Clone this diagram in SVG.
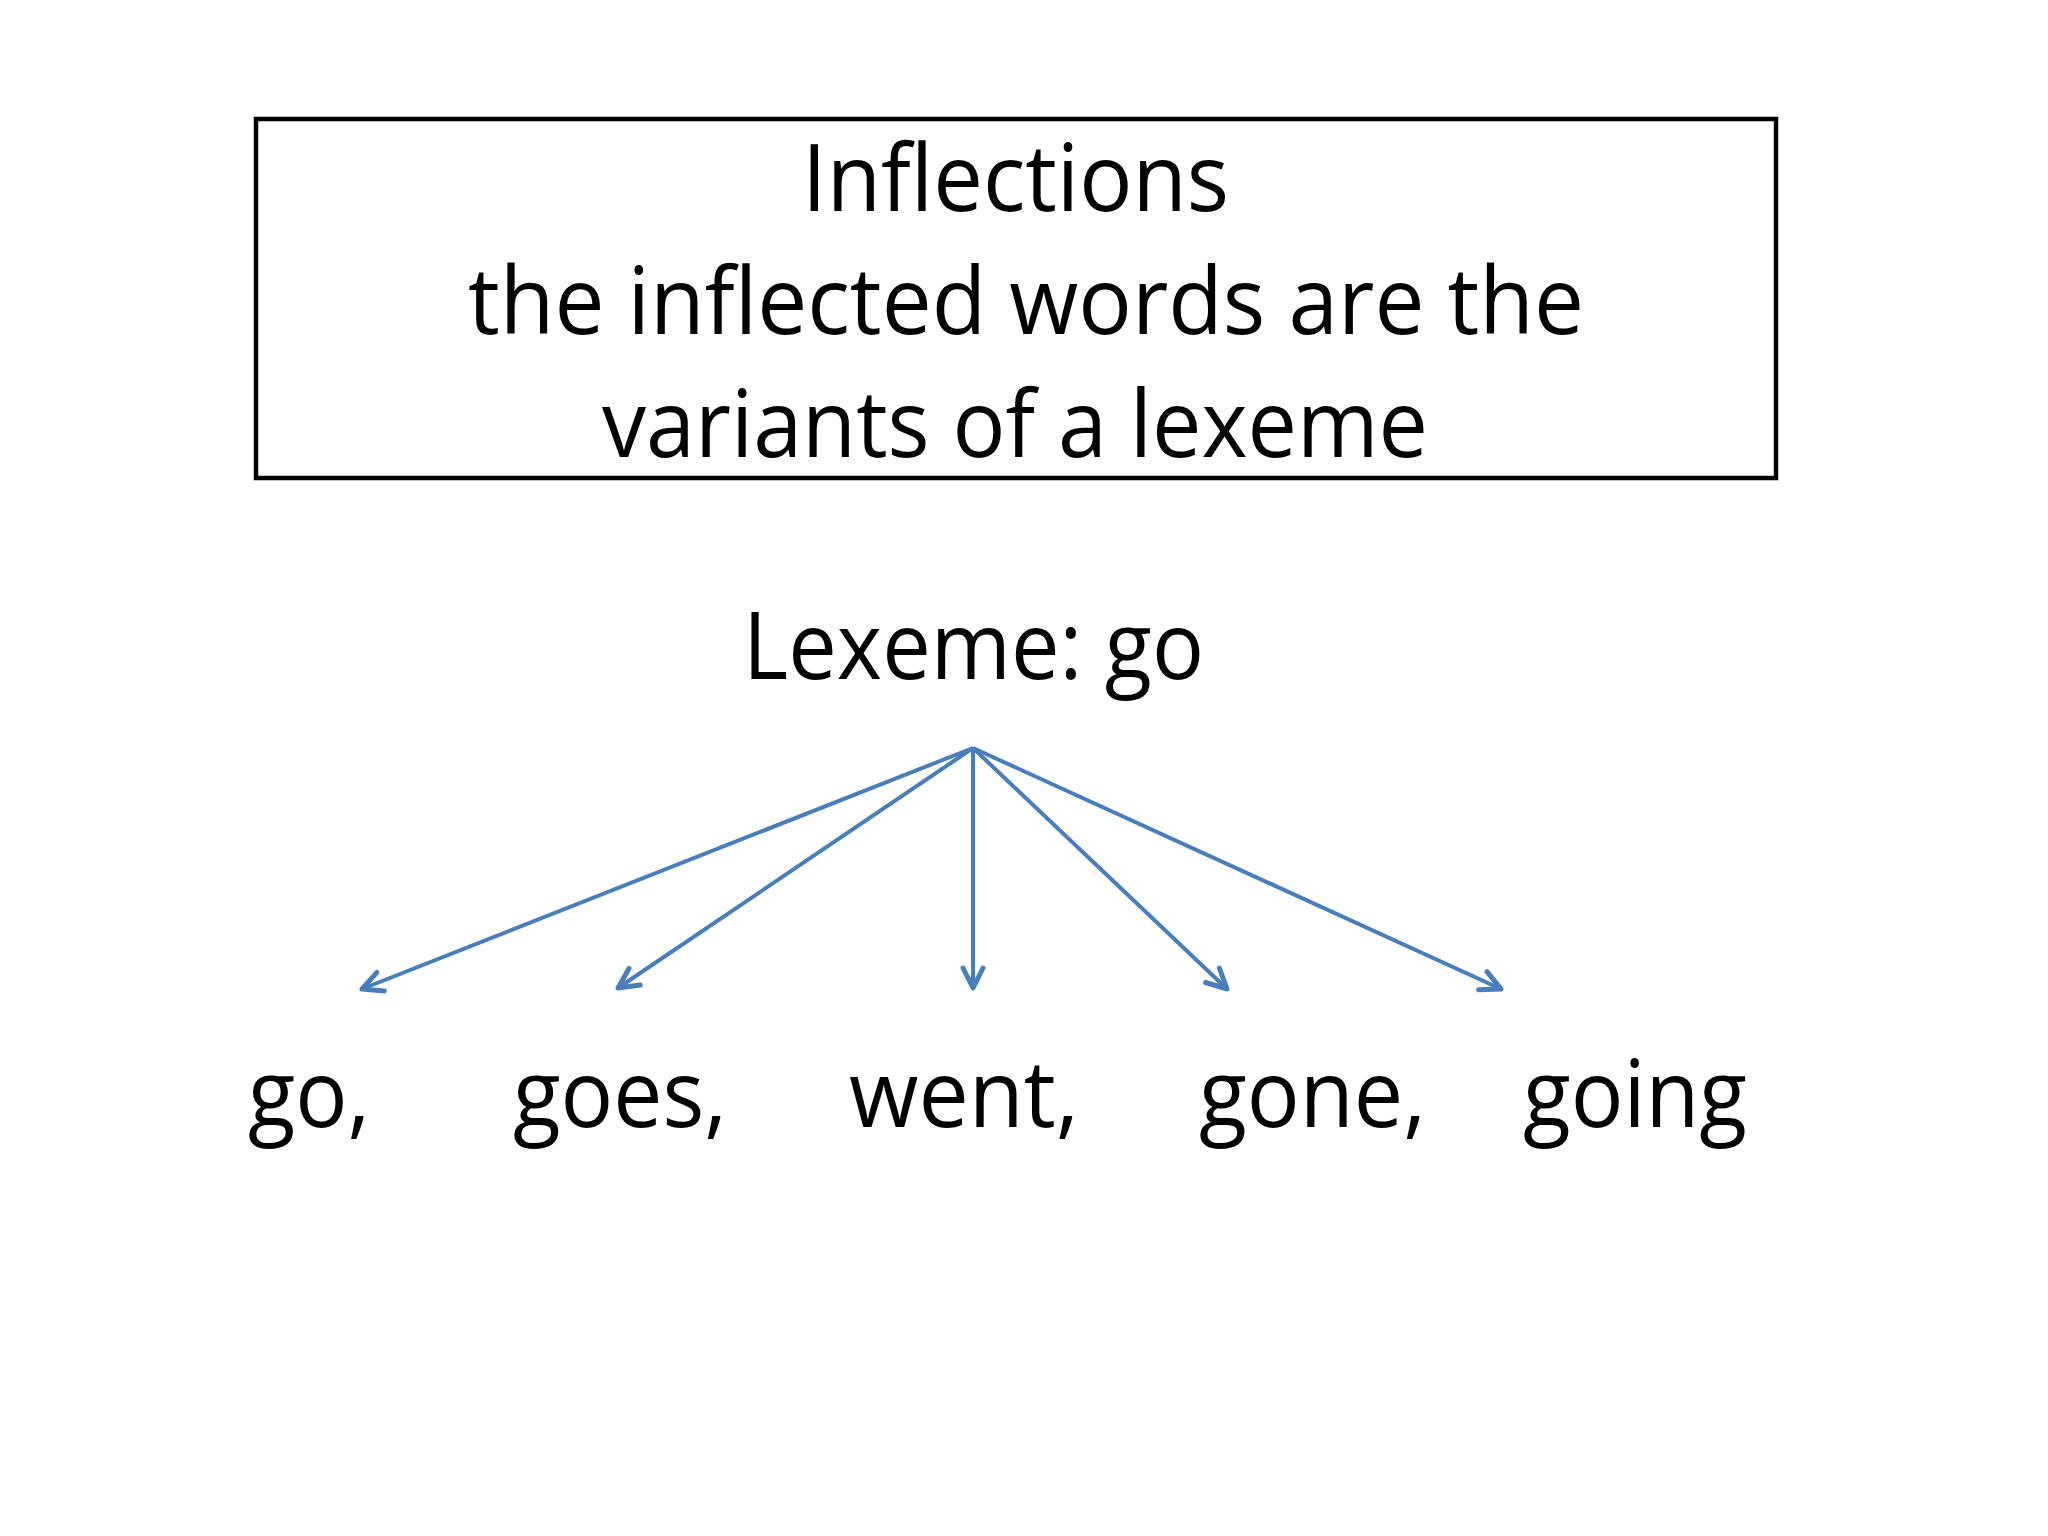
<svg xmlns="http://www.w3.org/2000/svg" width="2048" height="1536" viewBox="0 0 2048 1536">
<style>
  text { font-family: "Open Sans", "Noto Sans", sans-serif; font-size: 94px; fill: #000; }
  .edge { stroke: #4a7ebb; stroke-width: 4; fill: none; marker-end: url(#arr); }
</style>
<defs>
  <marker id="arr" markerUnits="userSpaceOnUse" markerWidth="30" markerHeight="30" viewBox="-20 -12 24 24" refX="0" refY="0" orient="auto">
    <path d="M-16,-8 L0,0 L-16,8" fill="none" stroke="#4a7ebb" stroke-width="4" stroke-linecap="round" stroke-linejoin="round"/>
  </marker>
</defs>
<rect width="2048" height="1536" fill="#fff"/>
<g id="title">
  <rect x="256" y="119" width="1520" height="359" fill="none" stroke="#000" stroke-width="4.5"/>
  <text x="802" y="211" textLength="427" lengthAdjust="spacingAndGlyphs">Inflections</text>
  <text x="468" y="334" textLength="1116" lengthAdjust="spacingAndGlyphs">the inflected words are the</text>
  <text x="602" y="457" textLength="826" lengthAdjust="spacingAndGlyphs">variants of a lexeme</text>
</g>
<g id="lexeme">
  <text x="743" y="679" textLength="461" lengthAdjust="spacingAndGlyphs">Lexeme: go</text>
</g>
<g id="connectors">
  <line class="edge" x1="973" y1="748" x2="362" y2="989"/>
  <line class="edge" x1="973" y1="748" x2="618" y2="988"/>
  <line class="edge" x1="973" y1="748" x2="973" y2="988"/>
  <line class="edge" x1="973" y1="748" x2="1227" y2="989"/>
  <line class="edge" x1="973" y1="748" x2="1501" y2="989"/>
</g>
<g id="w-go"><text x="248" y="1127" textLength="122" lengthAdjust="spacingAndGlyphs">go,</text></g>
<g id="w-goes"><text x="513" y="1127" textLength="214" lengthAdjust="spacingAndGlyphs">goes,</text></g>
<g id="w-went"><text x="849" y="1127" textLength="230" lengthAdjust="spacingAndGlyphs">went,</text></g>
<g id="w-gone"><text x="1199" y="1127" textLength="227" lengthAdjust="spacingAndGlyphs">gone,</text></g>
<g id="w-going"><text x="1523" y="1127" textLength="224" lengthAdjust="spacingAndGlyphs">going</text></g>
</svg>
